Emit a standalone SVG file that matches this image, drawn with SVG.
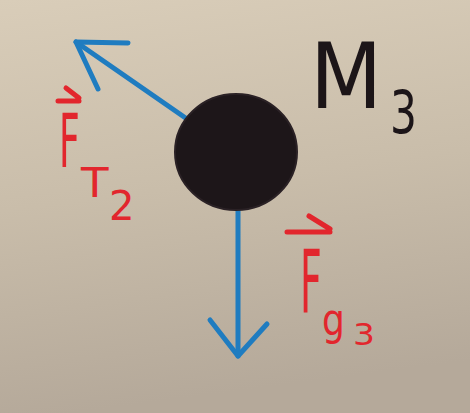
<svg xmlns="http://www.w3.org/2000/svg" width="470" height="413" viewBox="0 0 470 413">
  <defs>
    <linearGradient id="bg" x1="0" y1="0" x2="0.15" y2="1">
      <stop offset="0" stop-color="#d9cdb9"/>
      <stop offset="0.5" stop-color="#c9bdaa"/>
      <stop offset="1" stop-color="#b5a99a"/>
    </linearGradient>
    <style>
      .blue { stroke: #1f7cc0; stroke-width: 5; fill: none; stroke-linecap: round; stroke-linejoin: round; }
      .redline { stroke: #e2262d; stroke-width: 5; fill: none; stroke-linecap: round; stroke-linejoin: round; }
      .red { fill: #e2262d; font-family: "DejaVu Sans", sans-serif; }
      .blk { fill: #1c1518; font-family: "DejaVu Sans", sans-serif; }
    </style>
  </defs>
  <rect x="0" y="0" width="470" height="413" fill="url(#bg)"/>

  <g id="connectors">
    <g id="force-tension">
      <path class="blue" d="M200,128 L76,42"/>
      <path class="blue" d="M128,43 L76,42 L98,89"/>
    </g>
    <g id="force-gravity">
      <path class="blue" d="M238,200 L238,356"/>
      <path class="blue" d="M210,320 L238,356 L267,324"/>
    </g>
  </g>

  <g id="mass">
    <ellipse cx="236" cy="152" rx="61" ry="58" fill="#1d1619" stroke="#2a2125" stroke-width="2"/>
  </g>

  <g id="label-m3">
    <text class="blk" font-size="90" transform="translate(310,108) scale(0.93,1)">M</text>
    <text class="blk" font-size="58" transform="translate(390,133) scale(0.73,1)">3</text>
  </g>

  <g id="label-ft2">
    <path class="redline" d="M58,101 L79,101 M66,88 L79,98"/>
    <text class="red" font-size="75" transform="translate(59,167) scale(0.48,1)">F</text>
    <text class="red" font-size="41" transform="translate(81,197) scale(1.1,1)">T</text>
    <text class="red" font-size="41" transform="translate(109,220) scale(0.98,1)">2</text>
  </g>

  <g id="label-fg3">
    <path class="redline" d="M287,232 L330,232 M309,216 L330,229"/>
    <text class="red" font-size="88" transform="translate(300,312) scale(0.43,1)">F</text>
    <text class="red" font-size="45" transform="translate(322,335) scale(0.8,1)">g</text>
    <text class="red" font-size="30" transform="translate(353,345) scale(1.15,1)">3</text>
  </g>
</svg>
